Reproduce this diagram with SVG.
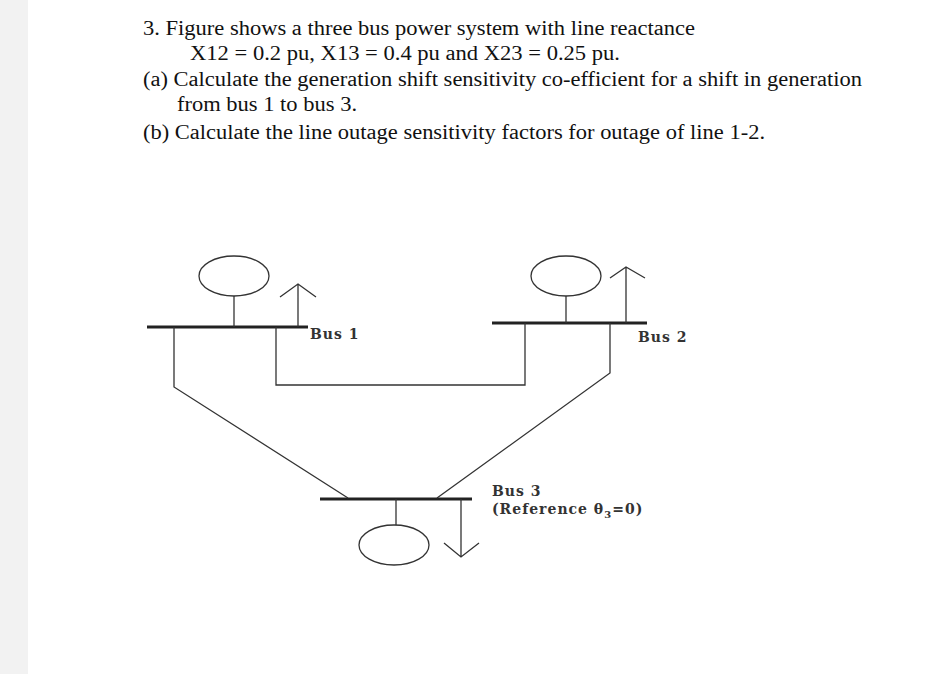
<svg xmlns="http://www.w3.org/2000/svg" width="930" height="674" viewBox="0 0 930 674">
<style>
.t{font-family:"Liberation Serif",serif;font-size:20px;fill:#111}
.l{font-family:"DejaVu Serif","Liberation Serif",serif;font-size:14px;font-weight:bold;fill:#333;letter-spacing:1px}
.w{stroke:#333;stroke-width:1.3;fill:none}
.b{stroke:#222;stroke-width:3;fill:none}
</style>
<rect width="930" height="674" fill="#fff"/>
<rect width="28" height="674" fill="#f2f2f2"/>
<g id="text">
<text class="t" x="143" y="35" textLength="552" lengthAdjust="spacingAndGlyphs">3. Figure shows a three bus power system with line reactance</text>
<text class="t" x="190" y="60" textLength="430" lengthAdjust="spacingAndGlyphs">X12 = 0.2 pu, X13 = 0.4 pu and X23 = 0.25 pu.</text>
<text class="t" x="143" y="86" textLength="719" lengthAdjust="spacingAndGlyphs">(a) Calculate the generation shift sensitivity co-efficient for a shift in generation</text>
<text class="t" x="177" y="111" textLength="180" lengthAdjust="spacingAndGlyphs">from bus 1 to bus 3.</text>
<text class="t" x="143" y="139" textLength="622" lengthAdjust="spacingAndGlyphs">(b) Calculate the line outage sensitivity factors for outage of line 1-2.</text>
</g>
<g id="bus1">
<line class="b" x1="147" y1="327" x2="308" y2="327"/>
<ellipse class="w" cx="234" cy="276" rx="35" ry="20"/>
<line class="w" x1="234" y1="296" x2="234" y2="327"/>
<path class="w" d="M298 327V284M280 297L298 284L316 297"/>
<text class="l" x="310" y="339">Bus 1</text>
</g>
<g id="bus2">
<line class="b" x1="492" y1="323" x2="647" y2="323"/>
<ellipse class="w" cx="566" cy="276" rx="35" ry="20"/>
<line class="w" x1="566" y1="296" x2="566" y2="323"/>
<path class="w" d="M626 323V267M610 278L626 267L645 278"/>
<text class="l" x="638" y="342">Bus 2</text>
</g>
<g id="bus3">
<line class="b" x1="320" y1="499" x2="472" y2="499"/>
<line class="w" x1="396" y1="499" x2="396" y2="525"/>
<ellipse class="w" cx="394" cy="545" rx="35" ry="20"/>
<path class="w" d="M461 499V557M444 543L461 557L479 543"/>
<text class="l" x="492" y="496">Bus 3</text>
<text class="l" x="492" y="514">(Reference  θ<tspan font-size="10" dy="4">3</tspan><tspan dy="-4">=0)</tspan></text>
</g>
<g id="connectors">
<path class="w" d="M174 327V387L348 498"/>
<path class="w" d="M276 327V385H525V323"/>
<path class="w" d="M610 323V373L437 498"/>
</g>
</svg>
